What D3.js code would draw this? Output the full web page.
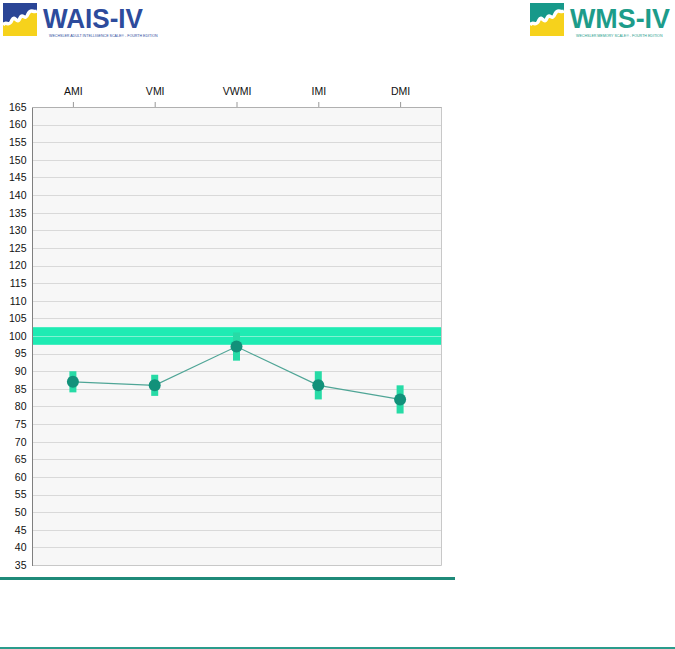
<!DOCTYPE html>
<html><head><meta charset="utf-8">
<script src="https://cdn.jsdelivr.net/npm/d3@7"></script>
<style>
html,body{margin:0;padding:0;background:#fff;}
svg{display:block;}
</style></head>
<body>
<script>
// ---- data ----
const categories = ["AMI", "VMI", "VWMI", "IMI", "DMI"];
const scores = [87, 86, 97, 86, 82];
const ciLow = [84, 83, 93, 82, 78];
const ciHigh = [90, 89, 101, 90, 86];
const yTicks = d3.range(35, 166, 5);
const bandRange = [97.5, 102.5];

const W = 675, H = 649;
const m = {left: 32, right: 441, top: 107, bottom: 565};

const svg = d3.select("body").append("svg").attr("width", W).attr("height", H);

// ---- logos ----
function logo(g, topColor, textColor, label, sub) {
  g.append("rect").attr("x", 0).attr("y", 0).attr("width", 34).attr("height", 33).attr("fill", "#f6d21c");
  g.append("path").attr("d", "M0,0 H34 V8 C30,10 28,5 25,11 C22,19 20,9 17,15 C14,23 12,11 9,17 C6,25 3,17 0,22 Z").attr("fill", topColor);
  g.append("path").attr("d", "M0,22 C3,17 6,25 9,17 C12,11 14,23 17,15 C20,9 22,19 25,11 C28,5 30,10 34,8")
    .attr("fill", "none").attr("stroke", "#fff").attr("stroke-width", 3.5);
  g.append("text").attr("x", 40).attr("y", 25).attr("font-family", "Liberation Sans, Arial, sans-serif")
    .attr("font-weight", "bold").attr("font-size", 27).attr("fill", textColor).attr("textLength", 100)
    .attr("lengthAdjust", "spacingAndGlyphs").text(label);
  g.append("text").attr("x", 46).attr("y", 34).attr("font-family", "Liberation Sans, Arial, sans-serif")
    .attr("font-size", 3.6).attr("fill", textColor).text(sub);
}
logo(svg.append("g").attr("transform", "translate(3,3)"), "#2a4596", "#2d4b9c", "WAIS-IV", "WECHSLER ADULT INTELLIGENCE SCALE® - FOURTH EDITION");
logo(svg.append("g").attr("transform", "translate(530,3)"), "#17998a", "#1d9c8a", "WMS-IV", "WECHSLER MEMORY SCALE® - FOURTH EDITION");

// ---- scales ----
const x = d3.scalePoint().domain(categories).range([m.left, m.right]).padding(0.5);
const y = d3.scaleLinear().domain([35, 165]).range([m.bottom, m.top]);

// plot background
svg.append("rect").attr("x", m.left).attr("y", m.top).attr("width", m.right - m.left).attr("height", m.bottom - m.top).attr("fill", "#f7f7f7");

// gridlines
svg.append("g").selectAll("line").data(yTicks).join("line")
  .attr("x1", m.left).attr("x2", m.right)
  .attr("y1", d => Math.round(y(d)) + 0.5).attr("y2", d => Math.round(y(d)) + 0.5)
  .attr("stroke", "#d9d9d9").attr("stroke-width", 1);

// average band
svg.append("rect").attr("x", m.left + 1).attr("width", m.right - m.left - 1)
  .attr("y", y(bandRange[1])).attr("height", y(bandRange[0]) - y(bandRange[1]))
  .attr("fill", "#1eebb3");
svg.append("line").attr("x1", m.left + 1).attr("x2", m.right)
  .attr("y1", Math.round(y(100)) + 0.5).attr("y2", Math.round(y(100)) + 0.5)
  .attr("stroke", "#7ff3d3").attr("stroke-width", 1);

// border
svg.append("path").attr("d", `M${m.left},${m.bottom + 0.5} H${m.right + 0.5} V${m.top}`)
  .attr("fill", "none").attr("stroke", "#c8c8c8");

// y axis
const yAxis = d3.axisLeft(y).tickValues(yTicks).tickSize(0).tickPadding(6);
const ya = svg.append("g").attr("transform", `translate(${m.left + 0.5},0)`).call(yAxis);
ya.select(".domain").attr("stroke", "#808080").attr("d", `M0,${m.top}V${m.bottom + 1}`);
ya.selectAll("text").attr("font-family", "Liberation Sans, Arial, sans-serif").attr("font-size", 10.5).attr("fill", "#111");

// top x axis
const xAxis = d3.axisTop(x).tickSize(5).tickPadding(7);
const xa = svg.append("g").attr("transform", `translate(0,${m.top})`).call(xAxis);
xa.select(".domain").attr("stroke", "#b0b0b0").attr("d", `M${m.left},0.5H${m.right + 0.5}`);
xa.selectAll(".tick line").attr("stroke", "#999");
xa.selectAll("text").attr("font-family", "Liberation Sans, Arial, sans-serif").attr("font-size", 10.5).attr("fill", "#111");

// error bars
svg.append("g").selectAll("rect").data(categories).join("rect")
  .attr("x", d => x(d) - 3.5).attr("width", 7)
  .attr("y", (d, i) => y(ciHigh[i])).attr("height", (d, i) => y(ciLow[i]) - y(ciHigh[i]))
  .attr("fill", "#27dba6");

// line
const line = d3.line().x((d, i) => x(categories[i])).y(d => y(d));
svg.append("path").datum(scores).attr("d", line).attr("fill", "none").attr("stroke", "#4fa596").attr("stroke-width", 1.2);

// points
svg.append("g").selectAll("circle").data(scores).join("circle")
  .attr("cx", (d, i) => x(categories[i])).attr("cy", d => y(d)).attr("r", 6)
  .attr("fill", "#12917a");

// bottom rules
svg.append("rect").attr("x", 0).attr("y", 577).attr("width", 455).attr("height", 3).attr("fill", "#1f8a79");
svg.append("rect").attr("x", 0).attr("y", 647).attr("width", W).attr("height", 2).attr("fill", "#2a9c8c");
</script>
</body></html>
